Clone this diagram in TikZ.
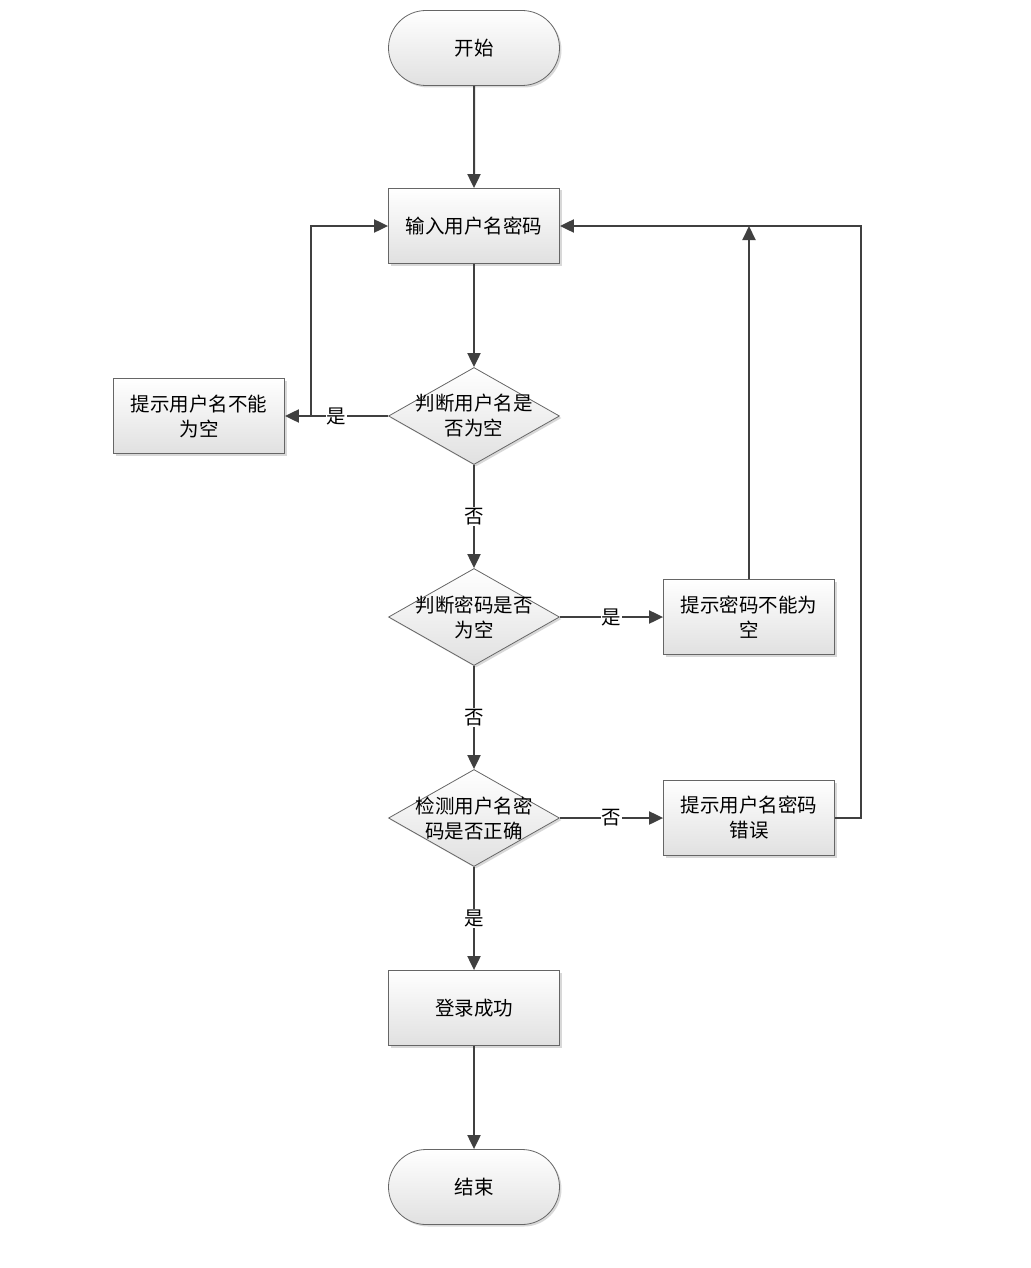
\documentclass[tikz,border=0pt]{standalone}
\usepackage{fontspec}
\setmainfont{Noto Sans CJK SC}
\usetikzlibrary{shapes.geometric,shapes.misc,shadows,arrows.meta}
\begin{document}
\begin{tikzpicture}[x=1pt,y=-1pt,
  every node/.style={font=\fontsize{19.5}{25}\selectfont},
  base/.style={draw=black!60,line width=0.8pt,top color=white,bottom color=black!12,drop shadow={shadow xshift=2pt,shadow yshift=-2pt,fill=black!30}},
  box/.style={base,rectangle,minimum width=171,minimum height=75,align=center,inner sep=1pt},
  term/.style={base,rounded rectangle,minimum width=171,minimum height=75,inner xsep=0pt},
  dia/.style={base,diamond,minimum width=171,minimum height=97,inner sep=0pt},
  txt/.style={align=center,inner sep=0pt},
  con/.style={draw=black!75,line width=2pt},
  arr/.style={con,-{Triangle[length=14pt,width=13pt]}},
  lab/.style={fill=white,inner sep=1pt}]
\useasboundingbox (0,0) rectangle (1030,1268);
\node[term] (start) at (474,48) {开始};
\node[box] (input) at (474,226) {输入用户名密码};
\node[dia] (d1) at (474,416) {};
\node[txt] (t1) at (474,416) {判断用户名是\\否为空};
\node[box] (b1) at (199,416) {提示用户名不能\\为空};
\node[dia] (d2) at (474,617) {};
\node[txt] (t2) at (474,617) {判断密码是否\\为空};
\node[box] (b2) at (749,617) {提示密码不能为\\空};
\node[dia] (d3) at (474,818) {};
\node[txt] (t3) at (474,818) {检测用户名密\\码是否正确};
\node[box] (b3) at (749,818) {提示用户名密码\\错误};
\node[box] (ok) at (474,1008) {登录成功};
\node[term] (end) at (474,1187) {结束};
\coordinate (j1) at (311,416);
\coordinate (j2) at (749,226);
\coordinate (j3) at (861,818);
\draw[arr] (start) -- (input);
\draw[arr] (input) -- (d1);
\draw[arr] (d1) -- node[lab]{是} (b1);
\draw[arr] (j1) |- (input.west);
\draw[arr] (d1) -- node[lab]{否} (d2);
\draw[arr] (d2) -- node[lab]{是} (b2);
\draw[arr] (b2) -- (j2);
\draw[arr] (d2) -- node[lab]{否} (d3);
\draw[arr] (d3) -- node[lab]{否} (b3);
\draw[arr] (b3.east) -- (j3) |- (input.east);
\draw[arr] (d3) -- node[lab]{是} (ok);
\draw[arr] (ok) -- (end);
\end{tikzpicture}
\end{document}
